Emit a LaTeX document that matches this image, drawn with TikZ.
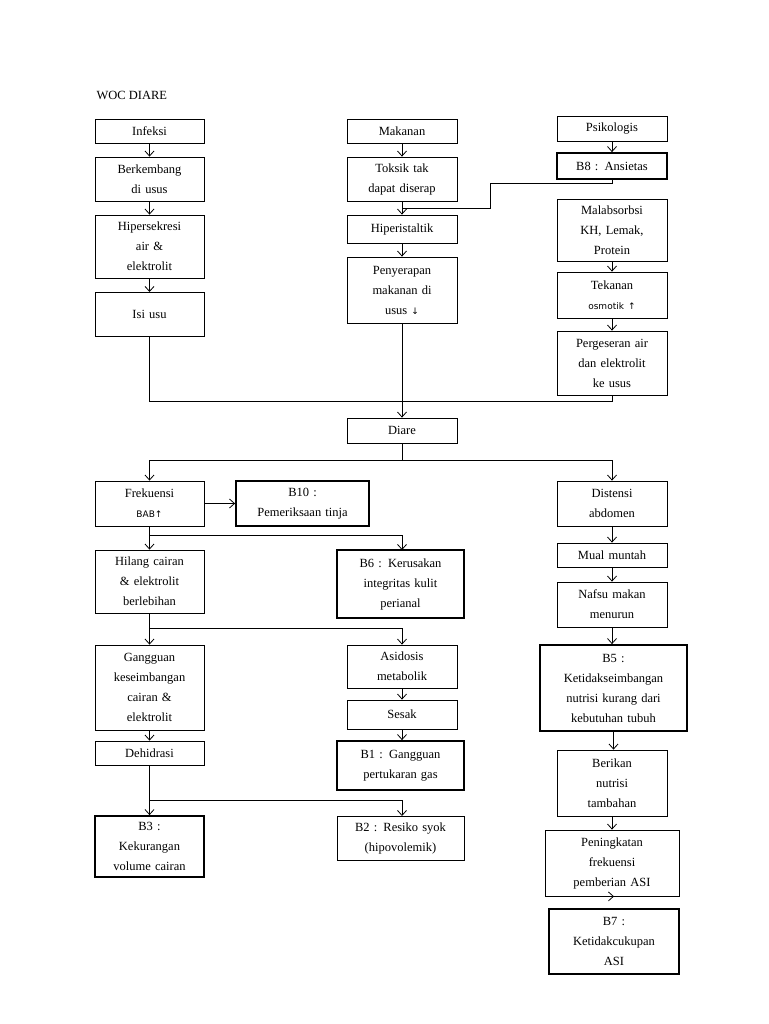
\documentclass[tikz,border=0pt]{standalone}
\usepackage{fontspec}
\setmainfont{Liberation Serif}
\newfontfamily\dv{DejaVu Sans}
\usetikzlibrary{arrows.meta}
\begin{document}
\begin{tikzpicture}[x=1pt,y=-1pt,
 box/.style={draw,line width=0.8pt,align=center,inner sep=1pt,font=\fontsize{12.5}{20}\selectfont},
 tb/.style={box,line width=1.8pt},
 ar/.style={-{Straight Barb[length=5pt,width=9pt]},line width=0.8pt},
 ln/.style={line width=0.8pt}]
\useasboundingbox (0,0) rectangle (768,1024);
\fill[white] (0,0) rectangle (768,1024);
\node[anchor=west,font=\fontsize{12.5}{15}\selectfont] (t) at (93,95) {WOC DIARE};
\newcommand\bx[6]{\node[#1,minimum width=#4,minimum height=#5,text width=#4-8] (#2) at #3 {#6};}
\bx{box}{inf}{(149.5,131)}{109}{24}{Infeksi}
\bx{box}{berk}{(149.5,179)}{109}{44}{Berkembang\\di usus}
\bx{box}{hip}{(149.5,246.5)}{109}{63}{Hipersekresi\\air \&\\elektrolit}
\node[box,minimum width=109,minimum height=44,text width=101,anchor=north] (isi) at (149.5,292) {Isi usu};
\bx{box}{mak}{(402,131)}{110}{24}{Makanan}
\bx{box}{tok}{(402,179)}{110}{44}{Toksik tak\\dapat diserap}
\bx{box}{hst}{(402,229)}{110}{28}{Hiperistaltik}
\bx{box}{pen}{(402,290)}{110}{66}{Penyerapan\\makanan di\\usus {\dv\small↓}}
\bx{box}{psi}{(612,128.5)}{110}{25}{Psikologis}
\bx{tb}{b8}{(612,166)}{110}{26}{B8 : Ansietas}
\bx{box}{mal}{(612,230)}{110}{62}{Malabsorbsi\\KH, Lemak,\\Protein}
\bx{box}{tek}{(612,295)}{110}{46}{Tekanan\\{\dv\small osmotik ↑}}
\bx{box}{per}{(612,363)}{110}{64}{Pergeseran air\\dan elektrolit\\ke usus}
\bx{box}{dia}{(402,430.5)}{110}{25}{Diare}
\bx{box}{frk}{(149.5,503.5)}{109}{45}{Frekuensi\\{\dv\small BAB↑}}
\bx{tb}{b10}{(302.5,503.5)}{133}{45}{B10 :\\Pemeriksaan tinja}
\bx{box}{dis}{(612,503.5)}{110}{45}{Distensi\\abdomen}
\bx{box}{hil}{(149.5,581.5)}{109}{63}{Hilang cairan\\\& elektrolit\\berlebihan}
\bx{tb}{b6}{(400.5,584)}{127}{68}{B6 : Kerusakan\\integritas kulit\\perianal}
\bx{box}{mua}{(612,555)}{110}{24}{Mual muntah}
\bx{box}{naf}{(612,604.5)}{110}{45}{Nafsu makan\\menurun}
\bx{box}{gan}{(149.5,687.5)}{109}{85}{Gangguan\\keseimbangan\\cairan \&\\elektrolit}
\bx{box}{asi}{(402,666.5)}{110}{43}{Asidosis\\metabolik}
\bx{box}{ses}{(402,714.5)}{110}{29}{Sesak}
\bx{tb}{b1}{(400.5,765.5)}{127}{49}{B1 : Gangguan\\pertukaran gas}
\bx{tb}{b5}{(613.5,688)}{147}{86}{B5 :\\Ketidakseimbangan\\nutrisi kurang dari\\kebutuhan tubuh}
\bx{box}{deh}{(149.5,753)}{109}{24}{Dehidrasi}
\bx{tb}{b3}{(149.5,846.5)}{109}{61}{B3 :\\Kekurangan\\volume cairan}
\bx{box}{b2}{(400.5,838)}{127}{44}{B2 : Resiko syok\\(hipovolemik)}
\bx{box}{ber}{(612,783)}{110}{66}{Berikan\\nutrisi\\tambahan}
\bx{box}{pas}{(612,863)}{134}{66}{Peningkatan\\frekuensi\\pemberian ASI}
\bx{tb}{b7}{(614,941.5)}{130}{65}{B7 :\\Ketidakcukupan\\ASI}
% vertical chains
\foreach \a/\b in {inf/berk,berk/hip,hip/isi,mak/tok,tok/hst,hst/pen,psi/b8,mal/tek,tek/per,pen/dia,frk/hil,hil/gan,gan/deh,deh/b3,asi/ses,ses/b1,dis/mua,mua/naf,naf/b5,b5/ber,ber/pas}
  \draw[ar] (\a.south) -- (\a.south |- \b.north);
\draw[ar] (pas.south) -- (pas.south -| b7.north);
% B8 to hiperistaltik
\coordinate (k1) at (490,183);
\coordinate (k2) at (490,208);
\draw[ln] (b8.south) |- (k1) -- (k2) -- (k2 -| hst.north);
% to diare
\coordinate (j1) at (149.5,401);
\draw[ln] (isi.south) -- (j1) -| (per.south);
% diare split
\coordinate (d1) at (402,460);
\draw[ln] (dia.south) -- (d1);
\draw[ln] (frk.north |- d1) -- (dis.north |- d1);
\draw[ar] (frk.north |- d1) -- (frk.north);
\draw[ar] (dis.north |- d1) -- (dis.north);
\draw[ar] (frk.east) -- (b10.west);
\coordinate (s1) at (149.5,535);
\draw[ar] (s1) -| (402,550);
\coordinate (s2) at (149.5,628);
\draw[ar] (s2) -| (asi.north);
\coordinate (s3) at (149.5,800);
\draw[ar] (s3) -| (402,816);
\end{tikzpicture}
\end{document}
